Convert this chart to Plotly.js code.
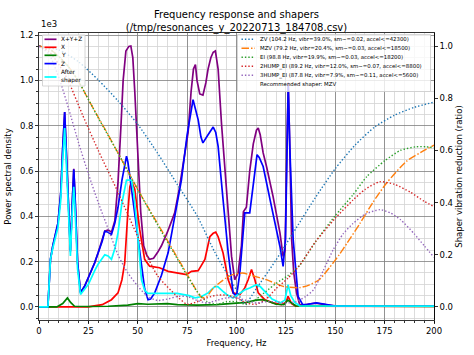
<!DOCTYPE html>
<html>
<head>
<meta charset="utf-8">
<script src="https://cdn.plot.ly/plotly-3.0.1.min.js"></script>
<style>html,body{margin:0;padding:0;background:#fff;}#chart{width:474px;height:355px;}</style>
</head>
<body>
<div id="chart"></div>
<script>
// ---------- PSD data (values in units of 1e3) ----------
const sumFreq = [0,4.5,5.8,7,9.6,11,12,13,14,15,15.9,16.8,17.6,18.2,19.5,21,23,25,28.2,30,32,33.3,35,36.7,38.4,40,41.5,42.6,44,45.5,46.5,47.5,48.5,50,51.5,53,54.5,56,58,60,62,65,68.7,71,73,75.5,77,78.2,79.2,80,81.4,83,84.5,85.6,87,88.2,89.3,90.7,92.4,94.9,97.5,99.1,100.8,102.5,103.5,105,106.7,108.5,110.1,111,112,113.5,115.2,118.5,122,123.6,124.6,125.5,126.2,127,127.9,129,130.4,132,134,136,140,145,150,160,200];
const sumPsd  = [0,0,0.21,0.27,0.37,0.5,0.7,0.86,0.65,0.4,0.25,0.45,0.61,0.5,0.2,0.065,0.09,0.13,0.195,0.24,0.3,0.335,0.34,0.33,0.38,0.55,0.8,1.0,1.13,1.15,1.152,1.1,0.95,0.65,0.42,0.27,0.23,0.21,0.215,0.24,0.27,0.33,0.415,0.52,0.63,0.77,0.95,1.05,1.07,1.0,0.94,0.935,0.99,1.05,1.1,1.124,1.13,1.05,0.81,0.52,0.223,0.12,0.15,0.27,0.42,0.44,0.6,0.72,0.78,0.79,0.76,0.68,0.62,0.488,0.327,0.223,0.25,0.7,0.99,0.7,0.3,0.15,0.062,0.01,0.008,0.012,0.017,0.01,0.005,0.003,0.003];

const xFreq = [0,25,28,32,36.7,40,42,43.4,45,46,46.8,48.5,51,53.5,56,61,65.4,70.4,74.7,77.2,80.6,82,84,86.5,88.2,89.5,90.7,93.2,95.8,98.3,101.7,104.2,105.9,107.6,109.3,111,114.3,118.5,122.7,125,126.1,127.9,130,200];
const xPsd  = [0,0,0.005,0.01,0.032,0.062,0.12,0.195,0.42,0.53,0.554,0.52,0.34,0.21,0.18,0.173,0.157,0.15,0.143,0.157,0.16,0.18,0.21,0.31,0.325,0.33,0.31,0.238,0.12,0.062,0.055,0.084,0.12,0.165,0.12,0.062,0.032,0.018,0.01,0.02,0.047,0.015,0.003,0.002];

const yFreq = [0,9,12,14.4,16,18,25,35,45,50,55,60,65,70,80,90,100,105,110,113,116,120,124,126,127.5,130,200];
const yPsd  = [0,0,0.015,0.04,0.02,0.003,0.002,0.003,0.008,0.015,0.012,0.012,0.015,0.01,0.008,0.01,0.015,0.02,0.03,0.032,0.025,0.012,0.01,0.03,0.02,0.005,0.002];

const zFreq = [0,4.5,5.8,7,9.6,11,12,13,14,15,15.9,16.8,17.6,18.2,19.5,21,23,25,28.2,30,32,33.3,35,36.7,38.4,40,42,44.3,45,46,48.5,50,51.9,53.5,55.2,56.5,58.6,62,65.4,68.5,72.1,75,78,79,80.6,82,83,85.6,88.2,89.5,90.7,93.2,95.8,98.3,100,101.7,103,104.2,106.7,108.4,110.4,111.5,113.5,117.7,122,123.6,124.8,125.6,126.2,127,128.7,131.2,133.5,136,140.5,145,149,160,200];
const zPsd  = [0,0,0.21,0.27,0.37,0.5,0.7,0.86,0.65,0.4,0.245,0.45,0.606,0.5,0.2,0.063,0.09,0.13,0.195,0.24,0.29,0.334,0.33,0.32,0.37,0.44,0.56,0.665,0.64,0.576,0.41,0.3,0.18,0.08,0.032,0.035,0.062,0.14,0.24,0.38,0.56,0.76,0.915,0.88,0.826,0.75,0.724,0.76,0.794,0.77,0.709,0.473,0.238,0.062,0.047,0.15,0.3,0.415,0.415,0.532,0.672,0.66,0.62,0.444,0.267,0.179,0.3,0.7,0.975,0.7,0.297,0.047,0.01,0.012,0.018,0.012,0.005,0.003,0.003];

const afterFreq = [0,4.5,5.8,7,9.6,11,12,13,14,15,15.9,16.8,17.6,18.2,19.5,21,25,28.2,30,33.3,35,36.7,38.5,40,42,44.3,46.8,48,49.3,51.9,53.5,55,60,65,70,76,79,82,85.6,89,90.5,93,95,98.3,101.7,104,106.7,110.1,112,115.2,118,122,124.5,126.1,127.5,129.5,132,200];
const afterPsd  = [0,0,0.21,0.26,0.35,0.47,0.65,0.79,0.6,0.37,0.225,0.41,0.53,0.44,0.17,0.055,0.1,0.16,0.19,0.23,0.225,0.21,0.26,0.327,0.46,0.56,0.56,0.5,0.385,0.12,0.075,0.06,0.06,0.062,0.06,0.05,0.04,0.045,0.062,0.09,0.09,0.07,0.055,0.04,0.062,0.075,0.084,0.098,0.09,0.062,0.035,0.018,0.03,0.098,0.05,0.02,0.005,0.004];

// ---------- shaper vibration reduction ratios ----------
const zvFreq = [0,10,20,30,40,50,60,70,80,89,95,100,104.2,110,120,130,140,150,160,170,180,190,200];
const zvVals = [1.0,0.985,0.94,0.87,0.79,0.70,0.59,0.47,0.35,0.21,0.13,0.065,0.01,0.07,0.18,0.30,0.42,0.53,0.62,0.69,0.735,0.765,0.785];

const mzvFreq = [0,5,10,15,20,25,30,35,40,45,50,55,60,65,70,75,80,82.5,85,88,91.5,95,98,103,108,115,123.6,132,137,142,147,152,156,162.5,169,176,186,195,200];
const mzvVals = [1.0,0.99,0.96,0.92,0.865,0.795,0.727,0.66,0.59,0.52,0.45,0.385,0.32,0.255,0.19,0.125,0.06,0.035,0.04,0.07,0.093,0.112,0.124,0.13,0.12,0.105,0.079,0.074,0.085,0.105,0.15,0.2,0.245,0.32,0.4,0.475,0.558,0.6,0.62];

const eiFreq = [0,5,10,15,20,30,40,50,60,70,80,85,90,95,100,105,110,115,120,126,132,140,150,159,166,175,183,191,196,200];
const eiVals = [1.0,0.99,0.96,0.92,0.865,0.725,0.59,0.45,0.315,0.185,0.06,0.02,0.01,0.02,0.02,0.01,0.03,0.06,0.09,0.12,0.16,0.25,0.35,0.43,0.5,0.56,0.6,0.614,0.614,0.61];

const hump2Freq = [0,5,10,14.6,22,30,40,50,60,70,75,80,85,90,95,100,105,110,115,120,126,132,140,150,159,165,172.6,180,188,195,200];
const hump2Vals = [1.0,0.98,0.93,0.87,0.737,0.6,0.44,0.27,0.12,0.04,0.01,0.02,0.035,0.045,0.045,0.035,0.015,0.01,0.03,0.07,0.11,0.16,0.25,0.34,0.41,0.45,0.48,0.47,0.44,0.405,0.385];

const hump3Freq = [0,5,10.5,15,20,25,30,35,40,45,50,55,60,65,70,75,80,85,90,95,100,105,110,115,120,125,130,135,139,144,149,154,159,165,172.6,178,183,190,195,200];
const hump3Vals = [1.0,0.97,0.87,0.76,0.63,0.51,0.40,0.3,0.2,0.13,0.08,0.04,0.025,0.03,0.04,0.04,0.025,0.015,0.025,0.035,0.035,0.025,0.015,0.02,0.02,0.015,0.02,0.04,0.066,0.14,0.22,0.28,0.32,0.355,0.373,0.36,0.335,0.28,0.235,0.19];

// ---------- labels ----------
const psdNames = ['X+Y+Z','X','Y','Z','After<br>shaper'];
const shaperNames = [
  'ZV (104.2 Hz, vibr=39.0%, sm~=0.02, accel&lt;=42300)',
  'MZV (79.2 Hz, vibr=20.4%, sm~=0.03, accel&lt;=18500)',
  'EI (98.8 Hz, vibr=19.9%, sm~=0.03, accel&lt;=18200)',
  '2HUMP_EI (89.2 Hz, vibr=12.0%, sm~=0.07, accel&lt;=8800)',
  '3HUMP_EI (87.8 Hz, vibr=7.9%, sm~=0.11, accel&lt;=5600)'
];
const recommendedText = 'Recommended shaper: MZV';
const titleLines = ['Frequency response and shapers','(/tmp/resonances_y_20220713_184708.csv)'];
const xTickVals = [0,25,50,75,100,125,150,175,200];

// ---------- styles ----------
const psdSeries = [[sumFreq,sumPsd],[xFreq,xPsd],[yFreq,yPsd],[zFreq,zPsd],[afterFreq,afterPsd]];
const psdColors = ['#800080','#ff0000','#008000','#0000ff','#00ffff'];
const shaperSeries = [[zvFreq,zvVals],[mzvFreq,mzvVals],[eiFreq,eiVals],[hump2Freq,hump2Vals],[hump3Freq,hump3Vals]];
const shaperColors = ['#1f77b4','#ff7f0e','#2ca02c','#d62728','#9467bd'];
const dotted = '1.4px,2px';
const dashdot = '7.5px,2px,1.5px,2px';
const shaperDash = [dotted,dashdot,dotted,dotted,dotted];

const traces = [];
psdSeries.forEach((s,i) => {
  traces.push({x:s[0], y:s[1], type:'scatter', mode:'lines', name:psdNames[i].replace('<br>',' '),
    line:{color:psdColors[i], width:1.7}, xaxis:'x', yaxis:'y', hoverinfo:'skip'});
});
shaperSeries.forEach((s,i) => {
  traces.push({x:s[0], y:s[1], type:'scatter', mode:'lines', name:shaperNames[i],
    line:{color:shaperColors[i], width:1.4, dash:shaperDash[i], shape:'spline', smoothing:0.6}, xaxis:'x', yaxis:'y2', hoverinfo:'skip'});
});

// ---------- geometry helpers (pixel -> paper) ----------
const W = 474, H = 355, M = {l:39, r:40, t:33, b:35};
const PW = W - M.l - M.r, PH = H - M.t - M.b;
const px = v => (v - M.l) / PW;
const py = v => (H - M.b - v) / PH;

const shapes = [];
const annotations = [];
const FS = 5.4;

// left legend (PSD)
shapes.push({type:'rect', xref:'paper', yref:'paper', x0:px(42.5), x1:px(85), y0:py(86), y1:py(35),
  fillcolor:'rgba(255,255,255,0.8)', line:{color:'#cccccc', width:0.8}, layer:'above'});
const leftRows = [39.3, 47.3, 55.3, 63.6, 77];
psdNames.forEach((n,i) => {
  shapes.push({type:'line', xref:'paper', yref:'paper', x0:px(44.5), x1:px(56.5), y0:py(leftRows[i]), y1:py(leftRows[i]),
    line:{color:psdColors[i], width:1.7}, layer:'above'});
  annotations.push({xref:'paper', yref:'paper', x:px(59.5), y:py(leftRows[i]), text:n, showarrow:false,
    xanchor:'left', yanchor:'middle', align:'left', font:{size:5.8, color:'#000'}, borderpad:0});
});

// right legend (shapers)
shapes.push({type:'rect', xref:'paper', yref:'paper', x0:px(237.5), x1:px(430.5), y0:py(91.5), y1:py(34.5),
  fillcolor:'rgba(255,255,255,0.8)', line:{color:'#cccccc', width:0.8}, layer:'above'});
const rightRows = [39.3, 48.3, 57.3, 66.3, 75.3, 84.3];
shaperNames.forEach((n,i) => {
  shapes.push({type:'line', xref:'paper', yref:'paper', x0:px(241.5), x1:px(255), y0:py(rightRows[i]), y1:py(rightRows[i]),
    line:{color:shaperColors[i], width:1.4, dash:shaperDash[i]}, layer:'above'});
  annotations.push({xref:'paper', yref:'paper', x:px(258.5), y:py(rightRows[i]), text:n, showarrow:false,
    xanchor:'left', yanchor:'middle', font:{size:FS, color:'#000'}, borderpad:0});
});
annotations.push({xref:'paper', yref:'paper', x:px(258.5), y:py(rightRows[5]), text:recommendedText, showarrow:false,
  xanchor:'left', yanchor:'middle', font:{size:FS, color:'#000'}, borderpad:0});

// scientific offset label
annotations.push({xref:'paper', yref:'paper', x:px(39.5), y:py(24), text:'1e3', showarrow:false,
  xanchor:'left', yanchor:'middle', font:{size:8.5, color:'#000'}, borderpad:0});

const axisCommon = {ticks:'outside', ticklen:3, tickwidth:0.8, tickcolor:'#000', showline:true, linecolor:'#000',
  linewidth:0.8, zeroline:false, tickfont:{size:8.5, color:'#000'}};

const layout = {
  width:W, height:H, margin:M, paper_bgcolor:'#fff', plot_bgcolor:'#fff', showlegend:false,
  font:{family:'DejaVu Sans, sans-serif', size:8.5, color:'#000'},
  title:{text:titleLines.join('<br>'), font:{size:10, color:'#000'}, x:0.5, xref:'paper', xanchor:'center',
    y:1-18/H, yref:'container', yanchor:'middle'},
  xaxis:Object.assign({}, axisCommon, {range:[0,200], tickvals:xTickVals, mirror:true,
    showgrid:true, gridcolor:'#808080', gridwidth:0.8,
    minor:{dtick:5, tick0:0, ticks:'outside', ticklen:2, tickcolor:'#000', showgrid:true, gridcolor:'#d3d3d3', gridwidth:0.8},
    title:{text:'Frequency, Hz', standoff:4, font:{size:8.5}}}),
  yaxis:Object.assign({}, axisCommon, {range:[-0.05758,1.2091], dtick:0.2, tick0:0, tickformat:'.1f', mirror:true,
    showgrid:true, gridcolor:'#808080', gridwidth:0.8,
    minor:{dtick:0.05, tick0:0, ticks:'outside', ticklen:2, tickcolor:'#000', showgrid:true, gridcolor:'#d3d3d3', gridwidth:0.8},
    title:{text:'Power spectral density', standoff:6, font:{size:8.5}}}),
  yaxis2:Object.assign({}, axisCommon, {overlaying:'y', side:'right', range:[-0.05,1.05], dtick:0.2, tick0:0,
    tickformat:'.1f', showgrid:false,
    title:{text:'Shaper vibration reduction (ratio)', standoff:3, font:{size:8.5}}}),
  shapes:shapes, annotations:annotations
};

Plotly.newPlot('chart', traces, layout, {displayModeBar:false, staticPlot:true});
</script>
</body>
</html>
